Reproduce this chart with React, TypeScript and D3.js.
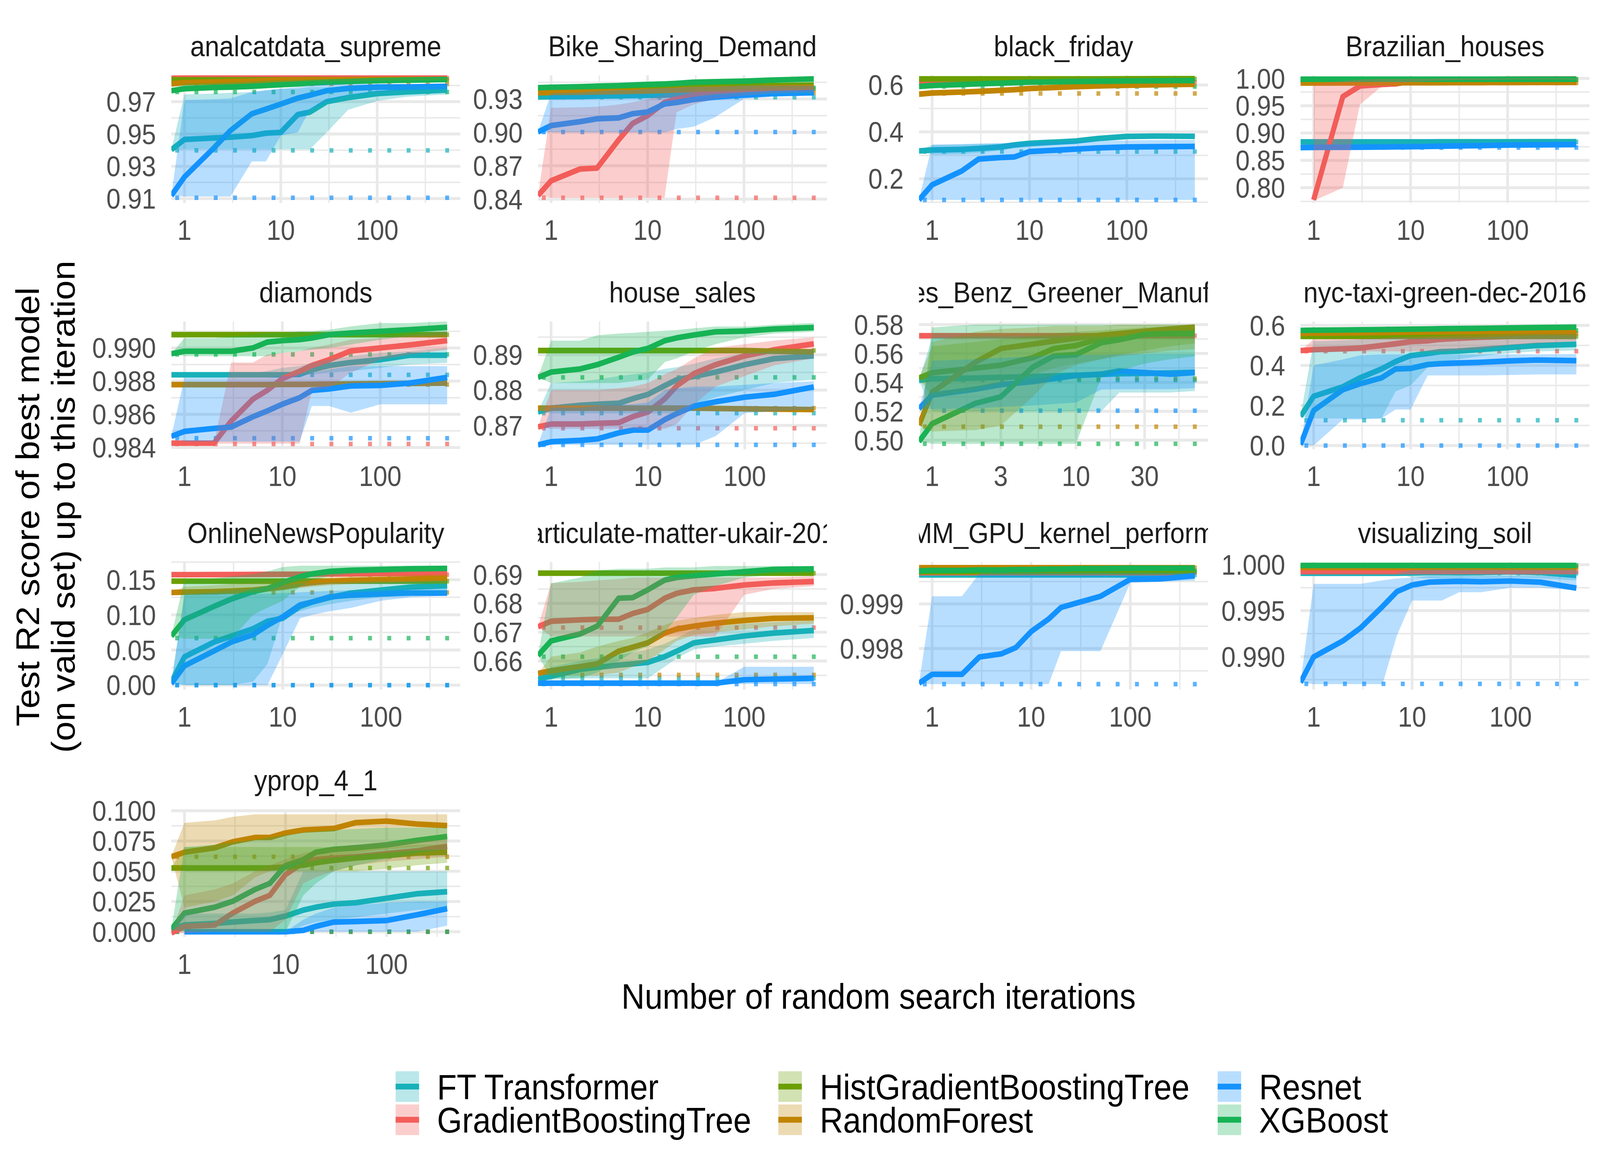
import * as d3 from 'd3';
import { useEffect, useRef } from 'react';

// model order: FT Transformer, GradientBoostingTree, HistGradientBoostingTree, RandomForest, Resnet, XGBoost
const modelNames = ['FT Transformer', 'GradientBoostingTree', 'HistGradientBoostingTree', 'RandomForest', 'Resnet', 'XGBoost'];
const modelColors = ['#17B1B9', '#F35E5A', '#6B9F00', '#C08400', '#1493FF', '#17B355'];

const decadeTicks = [1, 10, 100];
const mercedesXTicks = [1, 3, 10, 30];

// ---- analcatdata_supreme
const analcatIters = [0, 1, 2, 3, 5, 7, 10, 15, 20, 30, 50, 100, 200, 533];
const analcatMean = [
  [0.9402, 0.9466, 0.9475, 0.948, 0.949, 0.9505, 0.951, 0.962, 0.9635, 0.97, 0.9725, 0.975, 0.976, 0.9772],
  [0.9845, 0.9848, 0.9849, 0.985, 0.985, 0.985, 0.985, 0.985, 0.985, 0.985, 0.985, 0.985, 0.985, 0.985],
  [0.9835, 0.9835, 0.9835, 0.9835, 0.9835, 0.9835, 0.9835, 0.9835, 0.9836, 0.9836, 0.9836, 0.9837, 0.9837, 0.9837],
  [0.981, 0.9818, 0.9822, 0.9825, 0.9828, 0.983, 0.9832, 0.9833, 0.9834, 0.9835, 0.9836, 0.9837, 0.9838, 0.9838],
  [0.9118, 0.9234, 0.9411, 0.9521, 0.9625, 0.9654, 0.9685, 0.9722, 0.974, 0.9768, 0.9782, 0.979, 0.9791, 0.9795],
  [0.9768, 0.978, 0.9788, 0.979, 0.9795, 0.98, 0.9805, 0.981, 0.9815, 0.982, 0.9825, 0.983, 0.9833, 0.9837],
];
const analcatLow = [
  [0.9402, 0.9405, 0.9405, 0.9405, 0.9405, 0.9405, 0.9405, 0.9405, 0.9405, 0.951, 0.965, 0.9704, 0.973, 0.9745],
  null,
  null,
  [0.981, 0.9805, 0.981, 0.9812, 0.9815, 0.9818, 0.982, 0.9822, 0.9824, 0.9826, 0.9828, 0.983, 0.9832, 0.9833],
  [0.9118, 0.9113, 0.9113, 0.9113, 0.933, 0.933, 0.949, 0.951, 0.965, 0.97, 0.974, 0.976, 0.977, 0.978],
  [0.9768, 0.9765, 0.977, 0.9775, 0.978, 0.9785, 0.979, 0.9795, 0.98, 0.9805, 0.981, 0.9815, 0.982, 0.9825],
];
const analcatHigh = [
  [0.9402, 0.9745, 0.975, 0.9755, 0.976, 0.977, 0.978, 0.978, 0.979, 0.979, 0.9795, 0.98, 0.98, 0.98],
  null,
  null,
  [0.981, 0.983, 0.9833, 0.9835, 0.9837, 0.9838, 0.984, 0.984, 0.984, 0.9842, 0.9843, 0.9844, 0.9845, 0.9845],
  [0.9118, 0.971, 0.9715, 0.972, 0.976, 0.977, 0.978, 0.979, 0.98, 0.981, 0.981, 0.981, 0.981, 0.981],
  [0.9768, 0.981, 0.9815, 0.982, 0.9825, 0.983, 0.9833, 0.9836, 0.9838, 0.984, 0.9842, 0.9844, 0.9845, 0.9846],
];
const analcatDefault = [0.9398, 0.9845, 0.9835, 0.981, 0.9105, 0.976];
const analcatYTicks = [0.91, 0.93, 0.95, 0.97];
const analcatYRange = [0.9073, 0.9863];

// ---- Bike_Sharing_Demand
const bikeIters = [0, 1, 2, 3, 5, 7, 10, 15, 20, 30, 50, 100, 200, 530];
const bikeMean = [
  [0.9318, 0.932, 0.9322, 0.9325, 0.9328, 0.933, 0.9332, 0.9335, 0.9338, 0.934, 0.9345, 0.935, 0.9355, 0.936],
  [0.8432, 0.8565, 0.8671, 0.8679, 0.893, 0.908, 0.915, 0.9268, 0.93, 0.9335, 0.935, 0.936, 0.937, 0.938],
  [0.939, 0.939, 0.939, 0.939, 0.9392, 0.9395, 0.9398, 0.94, 0.9402, 0.9405, 0.941, 0.9415, 0.942, 0.9425],
  [0.9355, 0.9358, 0.936, 0.9362, 0.9365, 0.9368, 0.937, 0.9375, 0.938, 0.9385, 0.939, 0.9395, 0.94, 0.9405],
  [0.9003, 0.9061, 0.9096, 0.9122, 0.913, 0.9167, 0.9183, 0.9255, 0.9268, 0.9295, 0.9316, 0.9335, 0.9348, 0.9356],
  [0.9401, 0.9405, 0.941, 0.9415, 0.942, 0.9425, 0.943, 0.9435, 0.944, 0.945, 0.9455, 0.946, 0.947, 0.948],
];
const bikeLow = [
  [0.9318, 0.931, 0.931, 0.931, 0.9312, 0.9315, 0.9318, 0.932, 0.9322, 0.9325, 0.933, 0.9335, 0.934, 0.9345],
  [0.8432, 0.8412, 0.8412, 0.8412, 0.8412, 0.8412, 0.8412, 0.8412, 0.918, 0.925, 0.93, 0.933, 0.935, 0.936],
  null,
  [0.9355, 0.934, 0.9345, 0.935, 0.9355, 0.936, 0.9362, 0.9365, 0.937, 0.9375, 0.938, 0.9385, 0.939, 0.9395],
  [0.9003, 0.9, 0.9, 0.9, 0.9, 0.9, 0.9, 0.9, 0.903, 0.905, 0.9135, 0.93, 0.932, 0.933],
  [0.9401, 0.9395, 0.94, 0.9405, 0.941, 0.9415, 0.942, 0.9425, 0.943, 0.944, 0.9445, 0.945, 0.946, 0.947],
];
const bikeHigh = [
  [0.9318, 0.9335, 0.9338, 0.934, 0.9343, 0.9345, 0.9348, 0.935, 0.9352, 0.9355, 0.936, 0.9365, 0.937, 0.9375],
  [0.8432, 0.922, 0.9225, 0.923, 0.925, 0.927, 0.93, 0.934, 0.936, 0.937, 0.938, 0.939, 0.94, 0.941],
  null,
  [0.9355, 0.938, 0.9382, 0.9385, 0.9388, 0.939, 0.9392, 0.9395, 0.94, 0.9402, 0.9405, 0.941, 0.9412, 0.9415],
  [0.9003, 0.935, 0.936, 0.937, 0.938, 0.938, 0.939, 0.94, 0.94, 0.941, 0.941, 0.942, 0.942, 0.942],
  [0.9401, 0.9415, 0.942, 0.9425, 0.943, 0.9435, 0.944, 0.9445, 0.945, 0.946, 0.9465, 0.947, 0.948, 0.949],
];
const bikeDefault = [0.9315, 0.8412, 0.939, 0.9355, 0.9003, 0.94];
const bikeYTicks = [0.84, 0.87, 0.9, 0.93];
const bikeYRange = [0.8366, 0.9512];

// ---- black_friday
const fridayIters = [0, 1, 2, 3, 5, 7, 10, 15, 20, 30, 50, 100, 200, 499];
const fridayMean = [
  [0.3187, 0.3226, 0.3252, 0.329, 0.3355, 0.3445, 0.351, 0.355, 0.357, 0.361, 0.3716, 0.3806, 0.382, 0.381],
  [0.612, 0.613, 0.614, 0.615, 0.616, 0.617, 0.618, 0.618, 0.619, 0.619, 0.62, 0.62, 0.621, 0.621],
  [0.626, 0.626, 0.626, 0.626, 0.626, 0.626, 0.626, 0.626, 0.626, 0.626, 0.626, 0.6265, 0.627, 0.627],
  [0.561, 0.566, 0.57, 0.573, 0.577, 0.58, 0.585, 0.588, 0.59, 0.593, 0.596, 0.599, 0.601, 0.603],
  [0.1097, 0.1742, 0.2323, 0.2839, 0.2903, 0.293, 0.316, 0.32, 0.3226, 0.3265, 0.3316, 0.3355, 0.3368, 0.338],
  [0.594, 0.598, 0.602, 0.605, 0.608, 0.61, 0.612, 0.613, 0.614, 0.615, 0.616, 0.617, 0.618, 0.619],
];
const fridayLow = [
  [0.3187, 0.303, 0.305, 0.31, 0.32, 0.33, 0.335, 0.34, 0.345, 0.35, 0.36, 0.37, 0.372, 0.373],
  null,
  null,
  [0.561, 0.556, 0.558, 0.56, 0.565, 0.57, 0.575, 0.58, 0.583, 0.586, 0.59, 0.594, 0.597, 0.6],
  [0.1097, 0.1097, 0.1097, 0.1097, 0.1097, 0.1097, 0.1097, 0.1097, 0.1097, 0.1097, 0.1097, 0.1097, 0.1097, 0.1097],
  [0.594, 0.59, 0.595, 0.598, 0.602, 0.605, 0.607, 0.609, 0.61, 0.612, 0.613, 0.614, 0.615, 0.616],
];
const fridayHigh = [
  [0.3187, 0.345, 0.346, 0.348, 0.35, 0.355, 0.36, 0.362, 0.365, 0.37, 0.378, 0.386, 0.388, 0.389],
  null,
  null,
  [0.561, 0.575, 0.58, 0.585, 0.59, 0.593, 0.596, 0.598, 0.6, 0.602, 0.604, 0.606, 0.607, 0.608],
  [0.1097, 0.345, 0.348, 0.35, 0.352, 0.353, 0.355, 0.356, 0.358, 0.36, 0.362, 0.364, 0.365, 0.366],
  [0.594, 0.605, 0.608, 0.61, 0.612, 0.614, 0.616, 0.617, 0.618, 0.619, 0.62, 0.621, 0.622, 0.623],
];
const fridayDefault = [0.316, 0.612, 0.626, 0.5639, 0.1097, 0.5935];
const fridayYTicks = [0.2, 0.4, 0.6];
const fridayYRange = [0.0968, 0.6413];

// ---- Brazilian_houses
const brazilIters = [0, 1, 2, 3, 5, 7, 10, 15, 20, 30, 50, 100, 200, 511];
const brazilMean = [
  [0.8838, 0.8838, 0.8838, 0.8838, 0.8838, 0.8838, 0.8839, 0.8839, 0.884, 0.884, 0.8841, 0.8841, 0.8842, 0.8842],
  [null, 0.7778, 0.9667, 0.9861, 0.9889, 0.99, 0.9945, 0.996, 0.997, 0.9975, 0.998, 0.9985, 0.999, 0.999],
  [0.997, 0.997, 0.997, 0.997, 0.997, 0.997, 0.997, 0.997, 0.997, 0.997, 0.997, 0.997, 0.997, 0.997],
  [0.9915, 0.9915, 0.9916, 0.9917, 0.9918, 0.9919, 0.992, 0.992, 0.9921, 0.9922, 0.9923, 0.9924, 0.9925, 0.9925],
  [0.8735, 0.8738, 0.874, 0.8742, 0.8745, 0.8748, 0.875, 0.8755, 0.876, 0.8765, 0.877, 0.878, 0.8785, 0.879],
  [0.9985, 0.9985, 0.9985, 0.9985, 0.9985, 0.9985, 0.9985, 0.9985, 0.9985, 0.9985, 0.9985, 0.9985, 0.9985, 0.9985],
];
const brazilLow = [
  null,
  [null, 0.776, 0.8, 0.952, 0.985, 0.988, 0.993, 0.995, 0.996, 0.997, 0.997, 0.998, 0.998, 0.998],
  null,
  null,
  null,
  null,
];
const brazilHigh = [
  null,
  [null, 0.99, 0.995, 0.998, 0.999, 0.999, 0.9995, 0.9995, 1.0, 1.0, 1.0, 1.0, 1.0, 1.0],
  null,
  null,
  null,
  null,
];
const brazilDefault = [0.8838, null, 0.997, 0.9915, 0.8735, 0.9985];
const brazilYTicks = [0.8, 0.85, 0.9, 0.95, 1.0];
const brazilYRange = [0.7722, 1.0056];

// ---- diamonds
const diamondsIters = [0, 1, 2, 3, 5, 7, 10, 15, 20, 30, 50, 100, 200, 483];
const diamondsMean = [
  [0.98838, 0.98838, 0.98838, 0.98838, 0.98838, 0.98838, 0.98838, 0.9884, 0.98868, 0.98894, 0.98912, 0.98929, 0.98956, 0.98956],
  [0.98426, 0.98426, 0.98426, 0.98559, 0.98691, 0.98744, 0.98815, 0.98859, 0.98894, 0.98929, 0.98982, 0.99, 0.99018, 0.99044],
  [0.9908, 0.9908, 0.9908, 0.9908, 0.9908, 0.9908, 0.9908, 0.9908, 0.9908, 0.9908, 0.9908, 0.9908, 0.9908, 0.9908],
  [0.98779, 0.98779, 0.98779, 0.98779, 0.98779, 0.98779, 0.9878, 0.9878, 0.98781, 0.98782, 0.98783, 0.98785, 0.98786, 0.98788],
  [0.98467, 0.98497, 0.98515, 0.98523, 0.98585, 0.9862, 0.98661, 0.987, 0.98744, 0.98753, 0.98771, 0.98774, 0.98788, 0.98823],
  [0.98965, 0.9898, 0.9898, 0.9898, 0.99, 0.99035, 0.99044, 0.9905, 0.9906, 0.9908, 0.9909, 0.991, 0.9911, 0.99124],
];
const diamondsLow = [
  [0.98838, 0.98838, 0.98838, 0.98838, 0.98838, 0.98838, 0.98838, 0.98838, 0.9884, 0.9885, 0.9886, 0.9888, 0.989, 0.9891],
  [0.98426, 0.98423, 0.98423, 0.98423, 0.98423, 0.98423, 0.98423, 0.98423, 0.9874, 0.9876, 0.9885, 0.9893, 0.9896, 0.9899],
  null,
  null,
  [0.98467, 0.98435, 0.98435, 0.98435, 0.98435, 0.98435, 0.98435, 0.98435, 0.9865, 0.9865, 0.9861, 0.9866, 0.9866, 0.9866],
  [0.98965, 0.9895, 0.9895, 0.9895, 0.9895, 0.9895, 0.9897, 0.9898, 0.9899, 0.99, 0.9902, 0.9905, 0.9907, 0.9908],
];
const diamondsHigh = [
  [0.98838, 0.98838, 0.98838, 0.98838, 0.9885, 0.9886, 0.9888, 0.9889, 0.9891, 0.9893, 0.9895, 0.9897, 0.9898, 0.99],
  [0.98426, 0.98426, 0.98426, 0.98912, 0.98912, 0.9896, 0.9897, 0.9898, 0.99, 0.9902, 0.9905, 0.9906, 0.9908, 0.991],
  null,
  null,
  [0.98467, 0.9882, 0.9882, 0.9882, 0.9882, 0.9882, 0.9883, 0.9884, 0.9885, 0.9887, 0.9889, 0.9889, 0.9889, 0.9889],
  [0.98965, 0.9906, 0.9906, 0.9907, 0.9908, 0.9909, 0.9909, 0.991, 0.991, 0.9911, 0.9913, 0.9915, 0.9915, 0.9916],
];
const diamondsDefault = [0.98838, 0.98421, 0.9908, 0.98779, 0.98456, 0.98961];
const diamondsYTicks = [0.984, 0.986, 0.988, 0.99];
const diamondsYRange = [0.9839, 0.99159];

// ---- house_sales
const houseIters = [0, 1, 2, 3, 5, 7, 10, 15, 20, 30, 50, 100, 200, 516];
const houseMean = [
  [0.8738, 0.8749, 0.8757, 0.876, 0.8763, 0.8776, 0.8788, 0.8813, 0.883, 0.8839, 0.8851, 0.8872, 0.8889, 0.8897],
  [0.8696, 0.8704, 0.8704, 0.8706, 0.8708, 0.8725, 0.8738, 0.8776, 0.8813, 0.8847, 0.8872, 0.8897, 0.8914, 0.8931],
  [0.8912, 0.8912, 0.8912, 0.8912, 0.8912, 0.8912, 0.8912, 0.8912, 0.8912, 0.8912, 0.8912, 0.8912, 0.891, 0.8908],
  [0.8749, 0.8749, 0.8749, 0.8749, 0.8749, 0.8749, 0.8749, 0.8749, 0.8749, 0.8749, 0.8748, 0.8747, 0.8746, 0.8745],
  [0.8645, 0.8654, 0.8658, 0.8662, 0.8679, 0.8687, 0.8687, 0.8717, 0.8734, 0.8755, 0.8767, 0.878, 0.8788, 0.8809],
  [0.8836, 0.8851, 0.886, 0.8872, 0.8893, 0.8908, 0.8918, 0.894, 0.8948, 0.8956, 0.8965, 0.8967, 0.8973, 0.8977],
];
const houseLow = [
  [0.8738, 0.8734, 0.8734, 0.8734, 0.8734, 0.8734, 0.8734, 0.8734, 0.8734, 0.876, 0.878, 0.88, 0.882, 0.883],
  [0.8696, 0.869, 0.869, 0.869, 0.869, 0.869, 0.869, 0.869, 0.8705, 0.876, 0.881, 0.884, 0.887, 0.889],
  null,
  null,
  [0.8645, 0.8645, 0.8645, 0.8645, 0.8645, 0.8645, 0.8645, 0.8645, 0.8645, 0.8645, 0.867, 0.8735, 0.874, 0.8745],
  [0.8836, 0.882, 0.882, 0.882, 0.882, 0.8825, 0.883, 0.888, 0.889, 0.891, 0.893, 0.895, 0.896, 0.8965],
];
const houseHigh = [
  [0.8738, 0.882, 0.8825, 0.883, 0.884, 0.8845, 0.885, 0.886, 0.8865, 0.8875, 0.889, 0.8905, 0.891, 0.8915],
  [0.8696, 0.88, 0.88, 0.88, 0.8805, 0.881, 0.882, 0.8845, 0.886, 0.889, 0.892, 0.893, 0.894, 0.895],
  null,
  null,
  [0.8645, 0.875, 0.875, 0.8755, 0.876, 0.876, 0.8765, 0.88, 0.8805, 0.881, 0.881, 0.8815, 0.882, 0.8825],
  [0.8836, 0.894, 0.894, 0.8955, 0.896, 0.8962, 0.8965, 0.8968, 0.897, 0.8975, 0.898, 0.898, 0.8985, 0.899],
];
const houseDefault = [0.8735, 0.8692, 0.8912, 0.8749, 0.8645, 0.8836];
const houseYTicks = [0.87, 0.88, 0.89];
const houseYRange = [0.8633, 0.8994];

// ---- Mercedes_Benz_Greener_Manufacturing
const mercedesIters = [0, 1, 2, 3, 5, 7, 10, 15, 20, 30, 45, 67];
const mercedesMean = [
  [0.5415, 0.5425, 0.543, 0.5435, 0.544, 0.5445, 0.545, 0.5455, 0.546, 0.5462, 0.5465, 0.547],
  [0.5723, 0.5723, 0.5723, 0.5723, 0.5723, 0.5723, 0.5723, 0.5723, 0.5723, 0.5723, 0.5723, 0.5723],
  [0.543, 0.5467, 0.5499, 0.5519, 0.5571, 0.5634, 0.5655, 0.5706, 0.5727, 0.5748, 0.5763, 0.5769],
  [0.5104, 0.5332, 0.554, 0.5634, 0.5665, 0.5686, 0.5706, 0.5727, 0.5738, 0.5754, 0.5769, 0.5783],
  [0.5218, 0.5312, 0.5353, 0.5384, 0.5405, 0.5426, 0.5447, 0.5457, 0.5478, 0.5468, 0.5457, 0.5468],
  [0.499, 0.5114, 0.5255, 0.53, 0.5505, 0.5582, 0.5592, 0.5675, 0.5695, 0.5733, 0.5738, 0.5738],
];
const mercedesLow = [
  [0.5415, 0.52, 0.52, 0.52, 0.52, 0.52, 0.52, 0.52, 0.533, 0.533, 0.533, 0.534],
  null,
  [0.543, 0.53, 0.535, 0.54, 0.545, 0.55, 0.553, 0.556, 0.559, 0.562, 0.565, 0.567],
  [0.5104, 0.506, 0.507, 0.51, 0.53, 0.545, 0.552, 0.556, 0.558, 0.56, 0.562, 0.563],
  [0.5218, 0.5215, 0.522, 0.523, 0.524, 0.525, 0.526, 0.535, 0.5353, 0.5353, 0.5353, 0.536],
  [0.499, 0.4975, 0.4975, 0.4975, 0.4975, 0.4975, 0.4975, 0.5435, 0.548, 0.553, 0.556, 0.558],
];
const mercedesHigh = [
  [0.5415, 0.571, 0.572, 0.572, 0.572, 0.572, 0.572, 0.572, 0.572, 0.572, 0.572, 0.572],
  null,
  [0.543, 0.565, 0.568, 0.57, 0.572, 0.574, 0.575, 0.576, 0.577, 0.578, 0.579, 0.58],
  [0.5104, 0.568, 0.575, 0.577, 0.578, 0.579, 0.579, 0.579, 0.58, 0.58, 0.58, 0.58],
  [0.5218, 0.555, 0.556, 0.557, 0.558, 0.559, 0.559, 0.559, 0.5595, 0.5595, 0.5595, 0.5595],
  [0.499, 0.578, 0.58, 0.58, 0.58, 0.58, 0.58, 0.58, 0.58, 0.58, 0.58, 0.58],
];
const mercedesDefault = [0.5415, 0.5723, 0.5426, 0.5093, 0.5204, 0.4975];
const mercedesYTicks = [0.5, 0.52, 0.54, 0.56, 0.58];
const mercedesYRange = [0.4938, 0.5821];

// ---- nyc-taxi-green-dec-2016
const nycIters = [0, 1, 2, 3, 5, 7, 10, 15, 20, 30, 50, 100, 200, 513];
const nycMean = [
  [0.1452, 0.2459, 0.2933, 0.3378, 0.3822, 0.4193, 0.4489, 0.4593, 0.4681, 0.4711, 0.4785, 0.4889, 0.4993, 0.5052],
  [0.474, 0.4785, 0.483, 0.487, 0.4993, 0.508, 0.5185, 0.523, 0.53, 0.535, 0.54, 0.545, 0.55, 0.555],
  [0.545, 0.545, 0.545, 0.545, 0.545, 0.545, 0.545, 0.545, 0.545, 0.545, 0.545, 0.545, 0.545, 0.545],
  [0.56, 0.561, 0.562, 0.563, 0.564, 0.565, 0.566, 0.567, 0.567, 0.568, 0.569, 0.57, 0.571, 0.572],
  [0.0044, 0.1748, 0.2785, 0.3081, 0.3378, 0.3822, 0.3852, 0.4044, 0.4089, 0.4119, 0.4148, 0.4222, 0.4267, 0.4237],
  [0.575, 0.576, 0.577, 0.578, 0.579, 0.58, 0.581, 0.582, 0.583, 0.584, 0.585, 0.587, 0.589, 0.591],
];
const nycLow = [
  [0.1452, 0.135, 0.135, 0.135, 0.135, 0.27, 0.3, 0.39, 0.41, 0.43, 0.445, 0.46, 0.47, 0.475],
  [0.474, 0.47, 0.47, 0.47, 0.47, 0.47, 0.47, 0.47, 0.47, 0.475, 0.48, 0.5, 0.51, 0.52],
  null,
  null,
  [0.0044, 0.0, 0.13, 0.13, 0.135, 0.18, 0.18, 0.35, 0.35, 0.35, 0.35, 0.352, 0.355, 0.355],
  [0.575, 0.57, 0.571, 0.572, 0.573, 0.574, 0.575, 0.576, 0.577, 0.578, 0.579, 0.58, 0.582, 0.584],
];
const nycHigh = [
  [0.1452, 0.52, 0.525, 0.53, 0.535, 0.54, 0.54, 0.54, 0.54, 0.54, 0.54, 0.545, 0.55, 0.55],
  [0.474, 0.53, 0.532, 0.534, 0.537, 0.54, 0.542, 0.545, 0.547, 0.55, 0.552, 0.555, 0.558, 0.56],
  null,
  null,
  [0.0044, 0.4, 0.43, 0.45, 0.455, 0.455, 0.455, 0.455, 0.455, 0.455, 0.455, 0.456, 0.456, 0.457],
  [0.575, 0.585, 0.586, 0.587, 0.588, 0.589, 0.59, 0.591, 0.592, 0.593, 0.594, 0.595, 0.596, 0.597],
];
const nycDefault = [0.126, 0.471, 0.545, 0.56, 0.0, 0.575];
const nycYTicks = [0.0, 0.2, 0.4, 0.6];
const nycYRange = [-0.018, 0.619];

// ---- OnlineNewsPopularity
const newsIters = [0, 1, 2, 3, 5, 7, 10, 15, 20, 30, 50, 100, 200, 472];
const newsMean = [
  [0.0042, 0.0402, 0.0613, 0.0697, 0.0803, 0.0909, 0.0951, 0.112, 0.1183, 0.1247, 0.131, 0.1352, 0.1394, 0.1416],
  [0.1572, 0.1572, 0.1573, 0.1574, 0.1575, 0.1576, 0.1577, 0.1578, 0.158, 0.1582, 0.1584, 0.1586, 0.1588, 0.159],
  [0.1479, 0.1479, 0.1479, 0.1479, 0.1479, 0.1479, 0.1479, 0.1479, 0.1479, 0.1479, 0.1479, 0.1479, 0.1479, 0.1479],
  [0.1318, 0.1323, 0.133, 0.1338, 0.1352, 0.1373, 0.1394, 0.1437, 0.1458, 0.1479, 0.1492, 0.15, 0.1508, 0.1521],
  [0.0021, 0.0275, 0.0486, 0.0613, 0.0718, 0.085, 0.0972, 0.1141, 0.1183, 0.1255, 0.128, 0.1297, 0.131, 0.131],
  [0.0697, 0.093, 0.112, 0.1225, 0.1331, 0.1373, 0.1458, 0.1542, 0.1584, 0.1618, 0.1635, 0.1644, 0.1656, 0.1661],
];
const newsLow = [
  [0.0042, 0.0, 0.0, 0.0, 0.005, 0.03, 0.1, 0.105, 0.11, 0.115, 0.12, 0.125, 0.128, 0.13],
  null,
  null,
  [0.1318, 0.13, 0.1305, 0.131, 0.132, 0.133, 0.135, 0.138, 0.14, 0.142, 0.144, 0.146, 0.147, 0.148],
  [0.0021, 0.0, 0.0, 0.0, 0.0, 0.0, 0.044, 0.095, 0.1, 0.105, 0.11, 0.12, 0.125, 0.127],
  [0.0697, 0.066, 0.066, 0.066, 0.1, 0.11, 0.12, 0.14, 0.15, 0.155, 0.158, 0.16, 0.161, 0.162],
];
const newsHigh = [
  [0.0042, 0.13, 0.132, 0.135, 0.138, 0.14, 0.142, 0.144, 0.145, 0.146, 0.147, 0.148, 0.148, 0.149],
  null,
  null,
  [0.1318, 0.14, 0.142, 0.144, 0.146, 0.148, 0.15, 0.152, 0.153, 0.154, 0.155, 0.156, 0.157, 0.158],
  [0.0021, 0.128, 0.13, 0.13, 0.13, 0.13, 0.131, 0.132, 0.133, 0.134, 0.135, 0.136, 0.137, 0.138],
  [0.0697, 0.15, 0.152, 0.155, 0.158, 0.162, 0.168, 0.17, 0.17, 0.17, 0.17, 0.17, 0.17, 0.17],
];
const newsDefault = [0.0, 0.1572, 0.1479, 0.1318, 0.0, 0.0668];
const newsYTicks = [0.0, 0.05, 0.1, 0.15];
const newsYRange = [-0.0063, 0.1753];

// ---- particulate-matter-ukair-2017
const ukairIters = [0, 1, 2, 3, 5, 7, 10, 15, 20, 30, 50, 100, 200, 525];
const ukairMean = [
  [0.6537, 0.6547, 0.6571, 0.6578, 0.6586, 0.659, 0.6595, 0.6615, 0.6634, 0.6663, 0.6673, 0.6687, 0.6697, 0.6706],
  [0.6719, 0.6738, 0.6743, 0.6745, 0.6745, 0.6765, 0.6779, 0.6818, 0.6835, 0.6847, 0.6852, 0.6864, 0.6871, 0.6876],
  [0.6905, 0.6905, 0.6905, 0.6905, 0.6905, 0.6905, 0.6905, 0.6905, 0.6905, 0.6905, 0.6905, 0.6905, 0.6905, 0.6905],
  [0.6557, 0.6566, 0.6581, 0.659, 0.6634, 0.6648, 0.6663, 0.6697, 0.6711, 0.6721, 0.6731, 0.6741, 0.6748, 0.675],
  [0.6523, 0.6523, 0.6523, 0.6523, 0.6523, 0.6523, 0.6523, 0.6523, 0.6523, 0.6523, 0.6523, 0.6535, 0.6537, 0.654],
  [0.6619, 0.667, 0.6694, 0.6721, 0.6818, 0.682, 0.6847, 0.6881, 0.689, 0.6896, 0.6902, 0.691, 0.6918, 0.692],
];
const ukairLow = [
  [0.6537, 0.6535, 0.654, 0.654, 0.654, 0.654, 0.654, 0.658, 0.661, 0.664, 0.665, 0.666, 0.667, 0.668],
  [0.6719, 0.6685, 0.6685, 0.6685, 0.6685, 0.6685, 0.6685, 0.6685, 0.6685, 0.6685, 0.6685, 0.683, 0.685, 0.686],
  null,
  [0.6557, 0.655, 0.655, 0.655, 0.656, 0.658, 0.66, 0.664, 0.667, 0.669, 0.67, 0.671, 0.672, 0.673],
  [0.652, 0.652, 0.652, 0.652, 0.652, 0.652, 0.652, 0.652, 0.652, 0.652, 0.652, 0.652, 0.652, 0.652],
  [0.6619, 0.654, 0.654, 0.656, 0.66, 0.663, 0.665, 0.67, 0.675, 0.683, 0.686, 0.689, 0.69, 0.6905],
];
const ukairHigh = [
  [0.6537, 0.658, 0.66, 0.661, 0.662, 0.663, 0.664, 0.666, 0.668, 0.671, 0.672, 0.673, 0.6735, 0.674],
  [0.6719, 0.687, 0.6875, 0.688, 0.6885, 0.689, 0.689, 0.689, 0.689, 0.689, 0.689, 0.689, 0.689, 0.6895],
  null,
  [0.6557, 0.6615, 0.663, 0.665, 0.667, 0.668, 0.67, 0.6725, 0.674, 0.675, 0.676, 0.677, 0.677, 0.677],
  [0.6523, 0.6523, 0.6523, 0.6523, 0.6523, 0.6523, 0.6523, 0.6523, 0.6523, 0.6523, 0.6523, 0.658, 0.658, 0.658],
  [0.6619, 0.687, 0.689, 0.6915, 0.692, 0.692, 0.692, 0.6925, 0.6925, 0.6925, 0.693, 0.693, 0.693, 0.693],
];
const ukairDefault = [0.654, 0.6716, 0.6905, 0.6552, 0.652, 0.6615];
const ukairYTicks = [0.66, 0.67, 0.68, 0.69];
const ukairYRange = [0.6501, 0.6944];

// ---- SGEMM_GPU_kernel_performance
const sgemmIters = [0, 1, 2, 3, 5, 7, 10, 15, 20, 30, 50, 100, 200, 448];
const sgemmMean = [
  [0.99965, 0.99965, 0.99965, 0.99965, 0.99965, 0.99965, 0.99965, 0.99965, 0.99965, 0.99965, 0.99965, 0.99965, 0.99965, 0.99965],
  [0.9997, 0.9997, 0.9997, 0.9997, 0.9997, 0.9997, 0.9997, 0.9997, 0.9997, 0.9997, 0.9997, 0.9997, 0.9997, 0.9997],
  [0.99972, 0.99972, 0.99972, 0.99972, 0.99972, 0.99972, 0.99972, 0.99972, 0.99972, 0.99972, 0.99972, 0.99972, 0.99972, 0.99972],
  [0.99981, 0.99981, 0.99981, 0.99981, 0.99981, 0.99981, 0.99981, 0.99981, 0.99981, 0.99981, 0.99981, 0.99981, 0.99981, 0.99981],
  [0.99722, 0.99742, 0.99742, 0.99781, 0.99788, 0.99802, 0.99838, 0.99866, 0.99892, 0.99903, 0.99917, 0.99955, 0.99956, 0.99963],
  [0.99974, 0.99975, 0.99975, 0.99976, 0.99976, 0.99977, 0.99977, 0.99978, 0.99978, 0.99979, 0.99979, 0.9998, 0.9998, 0.9998],
];
const sgemmLow = [
  null,
  null,
  null,
  null,
  [0.99722, 0.9972, 0.9972, 0.9972, 0.9972, 0.9972, 0.9972, 0.9972, 0.99794, 0.99794, 0.99794, 0.99947, 0.9995, 0.99952],
  null,
];
const sgemmHigh = [
  null,
  null,
  null,
  null,
  [0.99722, 0.99917, 0.99917, 0.99968, 0.9997, 0.9997, 0.9997, 0.9997, 0.9997, 0.9997, 0.9997, 0.9997, 0.9997, 0.9997],
  null,
];
const sgemmDefault = [0.99965, 0.9997, 0.99972, 0.99981, 0.9972, 0.99974];
const sgemmYTicks = [0.998, 0.999];
const sgemmYRange = [0.99708, 0.99994];

// ---- visualizing_soil
const soilIters = [0, 1, 2, 3, 5, 7, 10, 15, 20, 30, 50, 100, 200, 465];
const soilMean = [
  [0.99907, 0.99907, 0.99907, 0.99907, 0.99907, 0.99907, 0.9991, 0.99915, 0.99915, 0.99912, 0.99915, 0.99923, 0.99915, 0.99884],
  [0.99925, 0.99925, 0.99925, 0.99925, 0.99925, 0.99925, 0.99925, 0.99925, 0.99925, 0.99925, 0.99925, 0.99925, 0.99925, 0.99925],
  [0.9998, 0.9998, 0.9998, 0.9998, 0.9998, 0.9998, 0.9998, 0.9998, 0.9998, 0.9998, 0.9998, 0.9998, 0.9998, 0.9998],
  [0.9997, 0.9997, 0.9997, 0.9997, 0.9997, 0.9997, 0.9997, 0.9997, 0.9997, 0.9997, 0.9997, 0.9997, 0.9997, 0.9997],
  [0.98719, 0.98997, 0.99174, 0.99313, 0.99545, 0.99707, 0.99779, 0.9981, 0.99815, 0.99819, 0.99815, 0.99823, 0.9981, 0.99745],
  [0.99992, 0.99992, 0.99992, 0.99992, 0.99992, 0.99992, 0.99992, 0.99992, 0.99992, 0.99992, 0.99992, 0.99992, 0.99992, 0.99992],
];
const soilLow = [
  [0.99907, 0.99905, 0.99905, 0.99905, 0.99905, 0.99905, 0.9986, 0.9985, 0.9985, 0.9985, 0.9985, 0.9986, 0.9985, 0.9983],
  null,
  null,
  null,
  [0.98719, 0.987, 0.987, 0.987, 0.987, 0.9923, 0.9961, 0.9961, 0.9961, 0.997, 0.997, 0.9975, 0.9975, 0.9972],
  null,
];
const soilHigh = [
  [0.99907, 0.9991, 0.9991, 0.9991, 0.9991, 0.9991, 0.9994, 0.9995, 0.9995, 0.9995, 0.9995, 0.9995, 0.9995, 0.9995],
  null,
  null,
  null,
  [0.98719, 0.99792, 0.99792, 0.99792, 0.9983, 0.9985, 0.9986, 0.9988, 0.9988, 0.9988, 0.9988, 0.9988, 0.9988, 0.9988],
  null,
];
const soilDefault = [0.99907, 0.99925, 0.9998, 0.9997, 0.98704, 0.99992];
const soilYTicks = [0.99, 0.995, 1.0];
const soilYRange = [0.98642, 1.0003];

// ---- yprop_4_1
const ypropIters = [0, 1, 2, 3, 5, 7, 10, 15, 20, 30, 50, 100, 200, 398];
const ypropMean = [
  [0.002, 0.0056, 0.0069, 0.0081, 0.0093, 0.01, 0.013, 0.0179, 0.0203, 0.0228, 0.024, 0.0277, 0.0314, 0.0331],
  [-0.001, 0.0044, 0.0056, 0.0154, 0.0252, 0.0301, 0.0473, 0.0571, 0.0596, 0.0608, 0.062, 0.0645, 0.0669, 0.0706],
  [0.0527, 0.0527, 0.0527, 0.0527, 0.0527, 0.0527, 0.0535, 0.055, 0.057, 0.059, 0.061, 0.063, 0.065, 0.0657],
  [0.062, 0.0657, 0.0694, 0.0743, 0.0779, 0.0779, 0.0816, 0.0841, 0.0846, 0.0853, 0.0902, 0.0914, 0.089, 0.0877],
  [null, 0.0, 0.0, 0.0, 0.0, 0.0, 0.0, 0.0012, 0.0045, 0.008, 0.0085, 0.0093, 0.014, 0.0191],
  [0.002, 0.0154, 0.0203, 0.0252, 0.035, 0.04, 0.0547, 0.0596, 0.0657, 0.0681, 0.0694, 0.0718, 0.0755, 0.0787],
];
const ypropLow = [
  [0.002, 0.0, 0.0, 0.0, 0.0, 0.0, 0.0, 0.005, 0.008, 0.01, 0.012, 0.015, 0.018, 0.02],
  [-0.001, -0.001, 0.0, 0.0, 0.0, 0.0, 0.01, 0.04, 0.045, 0.05, 0.055, 0.058, 0.06, 0.062],
  [0.0527, 0.05, 0.05, 0.05, 0.05, 0.05, 0.05, 0.05, 0.05, 0.05, 0.05, 0.052, 0.055, 0.057],
  [0.062, 0.02, 0.025, 0.03, 0.045, 0.05, 0.055, 0.058, 0.06, 0.062, 0.065, 0.068, 0.07, 0.072],
  [null, 0.0, 0.0, 0.0, 0.0, 0.0, 0.0, 0.0, 0.0, 0.0, 0.0, 0.0, 0.0, 0.005],
  [0.002, 0.0, 0.0, 0.0, 0.0, 0.0, 0.0, 0.03, 0.04, 0.05, 0.055, 0.06, 0.065, 0.068],
];
const ypropHigh = [
  [0.002, 0.015, 0.015, 0.015, 0.015, 0.016, 0.018, 0.05, 0.05, 0.05, 0.05, 0.05, 0.05, 0.05],
  [-0.001, 0.03, 0.035, 0.04, 0.05, 0.055, 0.06, 0.065, 0.067, 0.07, 0.072, 0.074, 0.075, 0.076],
  [0.0527, 0.07, 0.07, 0.07, 0.07, 0.07, 0.07, 0.07, 0.07, 0.07, 0.07, 0.07, 0.072, 0.072],
  [0.062, 0.09, 0.092, 0.095, 0.097, 0.097, 0.097, 0.097, 0.097, 0.097, 0.097, 0.097, 0.097, 0.097],
  [null, 0.0, 0.0, 0.0, 0.0, 0.0, 0.0, 0.01, 0.015, 0.02, 0.022, 0.024, 0.025, 0.025],
  [0.002, 0.07, 0.072, 0.074, 0.076, 0.078, 0.08, 0.082, 0.083, 0.084, 0.085, 0.086, 0.086, 0.086],
];
const ypropDefault = [0.0, 0.0, 0.0527, 0.062, null, 0.0];
const ypropYTicks = [0.0, 0.025, 0.05, 0.075, 0.1];
const ypropYRange = [-0.0042, 0.1012];

type Arr = (number | null)[];
type Panel = {
  title: string;
  iters: number[];
  mean: Arr[];
  low: (Arr | null)[];
  high: (Arr | null)[];
  defaults: (number | null)[];
  yTicks: number[];
  yRange: number[];
  xTicks: number[];
};

const panels: Panel[] = [
  { title: 'analcatdata_supreme', iters: analcatIters, mean: analcatMean, low: analcatLow, high: analcatHigh, defaults: analcatDefault, yTicks: analcatYTicks, yRange: analcatYRange, xTicks: decadeTicks },
  { title: 'Bike_Sharing_Demand', iters: bikeIters, mean: bikeMean, low: bikeLow, high: bikeHigh, defaults: bikeDefault, yTicks: bikeYTicks, yRange: bikeYRange, xTicks: decadeTicks },
  { title: 'black_friday', iters: fridayIters, mean: fridayMean, low: fridayLow, high: fridayHigh, defaults: fridayDefault, yTicks: fridayYTicks, yRange: fridayYRange, xTicks: decadeTicks },
  { title: 'Brazilian_houses', iters: brazilIters, mean: brazilMean, low: brazilLow, high: brazilHigh, defaults: brazilDefault, yTicks: brazilYTicks, yRange: brazilYRange, xTicks: decadeTicks },
  { title: 'diamonds', iters: diamondsIters, mean: diamondsMean, low: diamondsLow, high: diamondsHigh, defaults: diamondsDefault, yTicks: diamondsYTicks, yRange: diamondsYRange, xTicks: decadeTicks },
  { title: 'house_sales', iters: houseIters, mean: houseMean, low: houseLow, high: houseHigh, defaults: houseDefault, yTicks: houseYTicks, yRange: houseYRange, xTicks: decadeTicks },
  { title: 'Mercedes_Benz_Greener_Manufacturing', iters: mercedesIters, mean: mercedesMean, low: mercedesLow, high: mercedesHigh, defaults: mercedesDefault, yTicks: mercedesYTicks, yRange: mercedesYRange, xTicks: mercedesXTicks },
  { title: 'nyc-taxi-green-dec-2016', iters: nycIters, mean: nycMean, low: nycLow, high: nycHigh, defaults: nycDefault, yTicks: nycYTicks, yRange: nycYRange, xTicks: decadeTicks },
  { title: 'OnlineNewsPopularity', iters: newsIters, mean: newsMean, low: newsLow, high: newsHigh, defaults: newsDefault, yTicks: newsYTicks, yRange: newsYRange, xTicks: decadeTicks },
  { title: 'particulate-matter-ukair-2017', iters: ukairIters, mean: ukairMean, low: ukairLow, high: ukairHigh, defaults: ukairDefault, yTicks: ukairYTicks, yRange: ukairYRange, xTicks: decadeTicks },
  { title: 'SGEMM_GPU_kernel_performance', iters: sgemmIters, mean: sgemmMean, low: sgemmLow, high: sgemmHigh, defaults: sgemmDefault, yTicks: sgemmYTicks, yRange: sgemmYRange, xTicks: decadeTicks },
  { title: 'visualizing_soil', iters: soilIters, mean: soilMean, low: soilLow, high: soilHigh, defaults: soilDefault, yTicks: soilYTicks, yRange: soilYRange, xTicks: decadeTicks },
  { title: 'yprop_4_1', iters: ypropIters, mean: ypropMean, low: ypropLow, high: ypropHigh, defaults: ypropDefault, yTicks: ypropYTicks, yRange: ypropYRange, xTicks: decadeTicks },
];

// layout in a 1568 x 1045.33 design space; the svg is stretched to the whole viewport
const VW = 1568;
const VH = 1045.333;
const colLeft = [167.9, 527.2, 900.6, 1274.5];
const rowTop = [67.2, 286.8, 501.2, 721.8];
const panelW = 283.2;
const panelH = 113.8;
const FONT = '"Liberation Sans", Arial, Helvetica, sans-serif';
const GRID = '#E9E9E9';

// how many decimals ggplot would show for a set of breaks
function decimalsFor(ticks: number[]) {
  let best = 0;
  ticks.forEach((t) => {
    let d = 0;
    while (d < 6 && Math.abs(Math.round(t * 10 ** d) - t * 10 ** d) > 1e-6) d++;
    best = Math.max(best, d);
  });
  return best;
}

export default function App() {
  const svgRef = useRef<SVGSVGElement | null>(null);

  useEffect(() => {
    if (!svgRef.current) return;
    const svg = d3.select(svgRef.current);
    svg.selectAll('*').remove();
    svg.append('rect').attr('width', VW).attr('height', VH).attr('fill', '#ffffff');
    const defs = svg.append('defs');

    panels.forEach((p, i) => {
      const col = i % 4;
      const row = Math.floor(i / 4);
      const left = colLeft[col];
      const top = rowTop[row];
      const right = left + panelW;
      const bottom = top + panelH;

      // log x axis, iteration 0 sits on the left edge (like -Inf in ggplot)
      const span = Math.log10(p.iters[p.iters.length - 1]);
      const x = d3.scaleLog().domain([10 ** (-0.05 * span), 10 ** (1.05 * span)]).range([left, right]);
      const xAt = (it: number) => (it === 0 ? left : x(it));
      const y = d3.scaleLinear().domain(p.yRange).range([bottom, top]);

      const g = svg.append('g');

      // grid: minor first, then major
      const yStep = p.yTicks[1] - p.yTicks[0];
      const yExt = [p.yTicks[0] - yStep, ...p.yTicks, p.yTicks[p.yTicks.length - 1] + yStep];
      const yMinor = d3.pairs(yExt).map(([a, b]) => (a + b) / 2).filter((v) => v > p.yRange[0] && v < p.yRange[1]);
      const lt = p.xTicks.map((t) => Math.log10(t));
      const xStep = lt[1] - lt[0];
      const xExt = [lt[0] - xStep, ...lt, lt[lt.length - 1] + (lt[lt.length - 1] - lt[lt.length - 2])];
      const [dLo, dHi] = x.domain().map((v) => Math.log10(v));
      const xMinor = d3.pairs(xExt).map(([a, b]) => (a + b) / 2).filter((v) => v > dLo && v < dHi);

      const grid = g.append('g').attr('stroke', GRID).attr('fill', 'none');
      grid.selectAll('line.ymin').data(yMinor).join('line')
        .attr('x1', left).attr('x2', right).attr('y1', (d) => y(d)).attr('y2', (d) => y(d)).attr('stroke-width', 1.3);
      grid.selectAll('line.xmin').data(xMinor).join('line')
        .attr('x1', (d) => x(10 ** d)).attr('x2', (d) => x(10 ** d)).attr('y1', top).attr('y2', bottom).attr('stroke-width', 1.3);
      grid.selectAll('line.ymaj').data(p.yTicks).join('line')
        .attr('x1', left).attr('x2', right).attr('y1', (d) => y(d)).attr('y2', (d) => y(d)).attr('stroke-width', 2.6);
      grid.selectAll('line.xmaj').data(p.xTicks).join('line')
        .attr('x1', (d) => x(d)).attr('x2', (d) => x(d)).attr('y1', top).attr('y2', bottom).attr('stroke-width', 2.6);

      // clip for data
      defs.append('clipPath').attr('id', `panel-clip-${i}`)
        .append('rect').attr('x', left).attr('y', top).attr('width', panelW).attr('height', panelH);
      const data = g.append('g').attr('clip-path', `url(#panel-clip-${i})`);

      // dotted default lines
      p.defaults.forEach((v, m) => {
        if (v == null) return;
        data.append('line')
          .attr('x1', left).attr('x2', right)
          .attr('y1', y(v)).attr('y2', y(v))
          .attr('stroke', modelColors[m])
          .attr('stroke-opacity', 0.7)
          .attr('stroke-width', 4)
          .attr('stroke-dasharray', '3.8 15.1')
          .attr('stroke-dashoffset', -3.8);
      });

      // mean lines
      const line = d3.line<[number, number | null]>()
        .defined((d) => d[1] != null)
        .x((d) => xAt(d[0]))
        .y((d) => y(d[1] as number));
      p.mean.forEach((arr, m) => {
        data.append('path')
          .attr('d', line(p.iters.map((it, k) => [it, arr[k]] as [number, number | null])) || '')
          .attr('fill', 'none')
          .attr('stroke', modelColors[m])
          .attr('stroke-width', 5)
          .attr('stroke-linejoin', 'round');
      });

      // ribbons drawn over the lines
      const area = d3.area<[number, number | null, number | null]>()
        .defined((d) => d[1] != null && d[2] != null)
        .x((d) => xAt(d[0]))
        .y0((d) => y(d[1] as number))
        .y1((d) => y(d[2] as number));
      p.mean.forEach((_, m) => {
        const lo = p.low[m];
        const hi = p.high[m];
        if (!lo || !hi) return;
        data.append('path')
          .attr('d', area(p.iters.map((it, k) => [it, lo[k], hi[k]] as [number, number | null, number | null])) || '')
          .attr('fill', modelColors[m])
          .attr('fill-opacity', 0.3)
          .attr('stroke', 'none');
      });

      // y tick labels
      const fmt = d3.format(`.${decimalsFor(p.yTicks)}f`);
      g.append('g').selectAll('text').data(p.yTicks).join('text')
        .attr('x', left - 15)
        .attr('y', (d) => y(d))
        .attr('dy', '0.36em')
        .attr('text-anchor', 'end')
        .attr('font-family', FONT)
        .attr('font-size', 25)
        .attr('fill', '#4D4D4D')
        .text((d) => fmt(d));

      // x tick labels
      g.append('g').selectAll('text').data(p.xTicks).join('text')
        .attr('x', (d) => x(d))
        .attr('y', bottom + 33)
        .attr('text-anchor', 'middle')
        .attr('font-family', FONT)
        .attr('font-size', 25)
        .attr('fill', '#4D4D4D')
        .text((d) => String(d));

      // strip title, clipped to the panel width
      defs.append('clipPath').attr('id', `strip-clip-${i}`)
        .append('rect').attr('x', left).attr('y', top - 50).attr('width', panelW).attr('height', 50);
      g.append('text')
        .attr('clip-path', `url(#strip-clip-${i})`)
        .attr('x', (left + right) / 2)
        .attr('y', top - 17)
        .attr('text-anchor', 'middle')
        .attr('font-family', FONT)
        .attr('font-size', 25.6)
        .attr('fill', '#1A1A1A')
        .text(p.title);
    });

    // axis titles
    svg.append('text')
      .attr('x', 861)
      .attr('y', 899.6)
      .attr('text-anchor', 'middle')
      .attr('font-family', FONT)
      .attr('font-size', 31.6)
      .attr('fill', '#000000')
      .text('Number of random search iterations');

    const yTitle = ['Test R2 score of best model', '(on valid set) up to this iteration'];
    const yTitleX = [38.3, 73.2];
    yTitle.forEach((t, k) => {
      svg.append('text')
        .attr('transform', `translate(${yTitleX[k]},452) rotate(-90)`)
        .attr('text-anchor', 'middle')
        .attr('font-family', FONT)
        .attr('font-size', 31.6)
        .attr('fill', '#000000')
        .text(t);
    });

    // legend (3 columns x 2 rows, filled column by column)
    const keyX = [387.7, 762.8, 1193.3];
    const keyY = [955.5, 985.1];
    const keyW = 23;
    const keyH = 27.3;
    modelNames.forEach((name, m) => {
      const kx = keyX[Math.floor(m / 2)];
      const ky = keyY[m % 2];
      const item = svg.append('g');
      item.append('rect')
        .attr('x', kx).attr('y', ky).attr('width', keyW).attr('height', keyH)
        .attr('fill', modelColors[m]).attr('fill-opacity', 0.3);
      item.append('line')
        .attr('x1', kx).attr('x2', kx + keyW)
        .attr('y1', ky + keyH / 2).attr('y2', ky + keyH / 2)
        .attr('stroke', modelColors[m]).attr('stroke-width', 5.2);
      item.append('text')
        .attr('x', kx + 40.6)
        .attr('y', ky + keyH / 2)
        .attr('dy', '0.36em')
        .attr('font-family', FONT)
        .attr('font-size', 31.6)
        .attr('fill', '#000000')
        .text(name);
    });
  }, []);

  return (
    <svg
      ref={svgRef}
      width="100vw"
      height="100vh"
      viewBox={`0 0 ${VW} ${VH}`}
      preserveAspectRatio="none"
      style={{ position: 'absolute', left: 0, top: 0, display: 'block' }}
    />
  );
}
